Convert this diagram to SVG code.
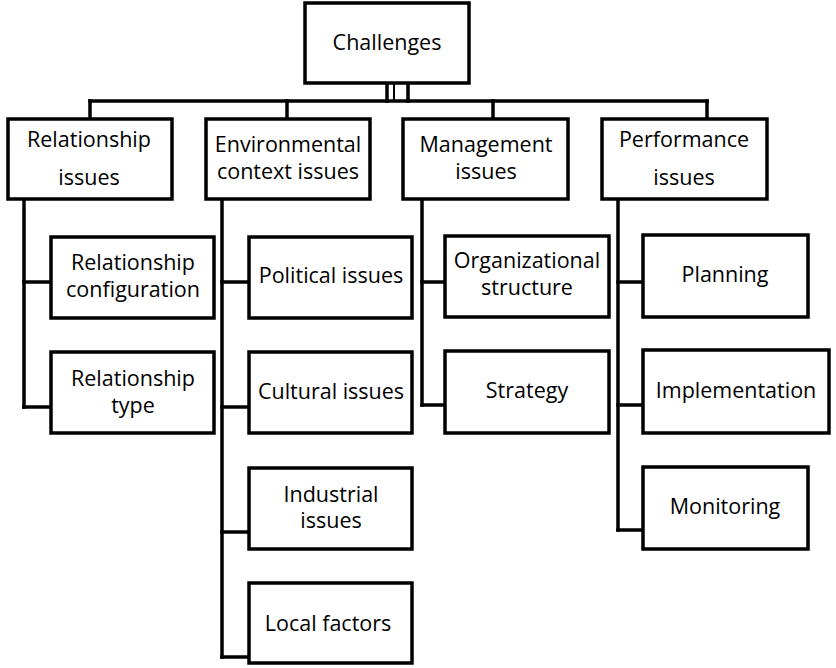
<svg xmlns="http://www.w3.org/2000/svg" width="836" height="668" viewBox="0 0 836 668">
<style>
rect.box{fill:#fff;stroke:#000;stroke-width:3.5}
text{font-family:"Open Sans",Lato,sans-serif;font-size:21.5px;fill:#000;text-anchor:middle}
.conn line{stroke:#000;stroke-width:3.5;stroke-linecap:square}
</style>
<rect width="836" height="668" fill="#fff"/>
<g class="conn" id="connectors">
<line x1="387" y1="83" x2="387" y2="101"/>
<line x1="394" y1="83" x2="394" y2="101" style="stroke-width:2"/>
<line x1="408" y1="83" x2="408" y2="101"/>
<line x1="90" y1="101" x2="707" y2="101"/>
<line x1="90" y1="101" x2="90" y2="119"/>
<line x1="287" y1="101" x2="287" y2="119"/>
<line x1="493" y1="101" x2="493" y2="119"/>
<line x1="707" y1="101" x2="707" y2="119"/>
<line x1="24" y1="199" x2="24" y2="407"/>
<line x1="24" y1="282" x2="51" y2="282"/>
<line x1="24" y1="407" x2="51" y2="407"/>
<line x1="222" y1="199" x2="222" y2="657"/>
<line x1="222" y1="282" x2="249" y2="282"/>
<line x1="222" y1="407" x2="249" y2="407"/>
<line x1="222" y1="532" x2="249" y2="532"/>
<line x1="222" y1="657" x2="249" y2="657"/>
<line x1="422" y1="199" x2="422" y2="405"/>
<line x1="422" y1="282" x2="445" y2="282"/>
<line x1="422" y1="405" x2="445" y2="405"/>
<line x1="618" y1="199" x2="618" y2="530"/>
<line x1="618" y1="282" x2="643" y2="282"/>
<line x1="618" y1="405" x2="643" y2="405"/>
<line x1="618" y1="530" x2="643" y2="530"/>
</g>
<g id="challenges"><rect class="box" x="305" y="3" width="164" height="80"/><text x="387" y="50">Challenges</text></g>
<g id="relationship-issues"><rect class="box" x="8" y="119" width="164" height="80"/><text x="89" y="147">Relationship</text><text x="89" y="185">issues</text></g>
<g id="environmental-issues"><rect class="box" x="206" y="119" width="164" height="80"/><text x="288" y="152">Environmental</text><text x="288" y="179">context issues</text></g>
<g id="management-issues"><rect class="box" x="403" y="119" width="165" height="80"/><text x="486" y="152">Management</text><text x="486" y="179">issues</text></g>
<g id="performance-issues"><rect class="box" x="602" y="119" width="165" height="80"/><text x="684" y="147">Performance</text><text x="684" y="185">issues</text></g>
<g id="relationship-configuration"><rect class="box" x="51" y="237" width="163" height="81"/><text x="133" y="270">Relationship</text><text x="133" y="297">configuration</text></g>
<g id="relationship-type"><rect class="box" x="51" y="352" width="163" height="81"/><text x="133" y="386">Relationship</text><text x="133" y="413">type</text></g>
<g id="political-issues"><rect class="box" x="249" y="237" width="163" height="81"/><text x="331" y="283">Political issues</text></g>
<g id="cultural-issues"><rect class="box" x="249" y="352" width="163" height="81"/><text x="331" y="399">Cultural issues</text></g>
<g id="industrial-issues"><rect class="box" x="249" y="468" width="163" height="81"/><text x="331" y="502">Industrial</text><text x="331" y="528">issues</text></g>
<g id="local-factors"><rect class="box" x="249" y="583" width="163" height="80"/><text x="328" y="631">Local factors</text></g>
<g id="organizational-structure"><rect class="box" x="445" y="236" width="164" height="81"/><text x="527" y="268">Organizational</text><text x="527" y="295">structure</text></g>
<g id="strategy"><rect class="box" x="445" y="351" width="164" height="82"/><text x="527" y="398">Strategy</text></g>
<g id="planning"><rect class="box" x="643" y="235" width="165" height="82"/><text x="725" y="282">Planning</text></g>
<g id="implementation"><rect class="box" x="643" y="350" width="186" height="83"/><text x="736" y="398">Implementation</text></g>
<g id="monitoring"><rect class="box" x="643" y="467" width="165" height="82"/><text x="725" y="514">Monitoring</text></g>
</svg>
